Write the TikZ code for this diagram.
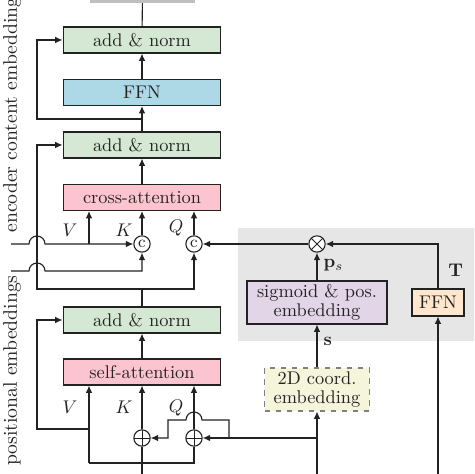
\documentclass[tikz,border=0pt]{standalone}
\usetikzlibrary{positioning,arrows.meta,calc}
\definecolor{ink}{HTML}{222222}
\definecolor{normgreen}{HTML}{D5E8D4}
\definecolor{ffnblue}{HTML}{ADD8E6}
\definecolor{attnpink}{HTML}{FCC4CE}
\definecolor{sigpurple}{HTML}{E1D5E7}
\definecolor{ffnorange}{HTML}{FFE6CC}
\definecolor{coordyellow}{HTML}{F5F5DC}
\definecolor{panelgray}{HTML}{E6E6E6}
\definecolor{outgray}{HTML}{BFBFBF}
\begin{document}
\begin{tikzpicture}[
  x=0.545pt, y=0.545pt,
  >=Latex,
  every node/.style={text=ink},
  block/.style={draw=ink,line width=0.6pt,minimum width=86pt,minimum height=14.2pt,inner sep=0pt},
  twoline/.style={draw=ink,line width=0.6pt,align=center,inner sep=0pt,minimum height=23.4pt,
    font=\fontsize{10pt}{10.5pt}\selectfont},
  op/.style={circle,draw=ink,line width=0.6pt,fill=white,minimum size=8.9pt,inner sep=0pt},
  plusop/.style={op,path picture={\draw[ink,line width=0.5pt]
    (path picture bounding box.north) -- (path picture bounding box.south)
    (path picture bounding box.west) -- (path picture bounding box.east);}},
  timesop/.style={op,path picture={\draw[ink,line width=0.5pt]
    (path picture bounding box.north west) -- (path picture bounding box.south east)
    (path picture bounding box.south west) -- (path picture bounding box.north east);}},
  catop/.style={op,font=\small},
  wire/.style={draw=ink,line width=0.6pt},
  arr/.style={wire,-{Latex[length=4pt,width=3.6pt]}},
  side/.style={rotate=90,inner sep=0pt,font=\fontsize{10.7pt}{13pt}\selectfont}
]
\path[use as bounding box] (0,0) rectangle (474,474);
\clip (0,0) rectangle (474,474);

% panel behind the spatial query branch
\fill[panelgray] (238,133) rectangle (480,246);

% decoder layer
\node[fill=outgray,minimum width=57pt,minimum height=14pt] (out) at (142.5,484) {};
\node[block,fill=normgreen] (an1) at (142,434) {add \& norm};
\node[block,fill=ffnblue] (ffn) at (142,381.5) {FFN};
\node[block,fill=normgreen] (an2) at (142,329) {add \& norm};
\node[block,fill=attnpink] (cross) at (142,276.5) {cross-attention};
\node[catop] (ck) at (142,230) {c};
\node[catop] (cq) at (194,230) {c};
\node[block,fill=normgreen] (an3) at (142,154) {add \& norm};
\node[block,fill=attnpink] (self) at (142,102) {self-attention};
\node[plusop] (pk) at (142,36) {};
\node[plusop] (pq) at (194,36) {};

% spatial query
\node[timesop] (mul) at (317,230) {};
\node[twoline,fill=sigpurple,minimum width=76.3pt] (sig) at (317,171.5) {sigmoid \& pos.\\embedding};
\node[twoline,fill=coordyellow,draw=gray,dashed,minimum width=57.2pt] (coord) at (317,84.5) {2D coord.\\embedding};
\node[draw=ink,line width=0.6pt,fill=ffnorange,minimum width=28.3pt,minimum height=14.7pt,inner sep=0pt] (ffs) at (438,171.5) {FFN};

% input labels
\node[side,anchor=base west] (enclab) at (17,241) {encoder content embedding};
\node[side,anchor=base east] (poslab) at (17,199) {positional embeddings};
\node (cv) at (70,244) {$V$};
\node (ckl) at (124,244) {$K$};
\node (cql) at (176,246) {$Q$};
\node (sv) at (70,67) {$V$};
\node (skl) at (124,67) {$K$};
\node (sql) at (176,66) {$Q$};

% wiring points
\coordinate (lx) at (37,0);
\coordinate (r2) at (142,355);
\coordinate (j1) at (142,185);
\coordinate (enc) at (11,230);
\coordinate (pos) at (11,203);
\coordinate (vc) at (89,230);
\coordinate (din) at (142,-5);
\coordinate (bus) at (142,11);
\coordinate (vb) at (89,11);
\coordinate (vj) at (89,45);
\coordinate (sin) at (317,-5);
\coordinate (sj) at (317,36);
\coordinate (sb) at (229,36);
\coordinate (hk) at (168,54);
\coordinate (tin) at (438,-5);

% upper half
\draw[wire] (an1) -- (out);
\draw[arr] (ffn) -- (an1);
\draw[arr] (an2) -- (ffn);
\draw[arr] (r2) -- (r2 -| lx) |- (an1.west);
\draw[arr] (cross) -- (an2);
\draw[arr] (ck) -- (cross.south -| ck);
\draw[arr] (cq) -- (cross.south -| cq);
\draw[arr] (vc) -- (vc |- cross.south);
\draw[arr] (enc) -- ($(enc -| lx)+(-8,0)$) arc[start angle=180,end angle=0,radius=4.36pt] -- (ck);
\draw[arr] (pos) -- ($(pos -| lx)+(-8,0)$) arc[start angle=180,end angle=0,radius=4.36pt] -| (ck);
\draw[arr] (an3) -- (j1) -- (j1 -| lx) |- (an2.west);
\draw[arr] (j1) -| (cq);
\draw[arr] (mul) -- (cq);

% lower half
\draw[arr] (self) -- (an3);
\draw[arr] (vj) -- (vj -| lx) |- (an3.west);
\draw[wire] (din) -- (pk);
\draw[wire] (vb) -- (bus) -| (pq);
\draw[arr] (vb) -- (vb |- self.south);
\draw[arr] (pk) -- (pk |- self.south);
\draw[arr] (pq) -- (pq |- self.south);
\draw[arr] (sj) -- (pq);
\draw[arr] (sb) -- (sb |- hk) -- ($(pq |- hk)+(8,0)$) arc[start angle=0,end angle=180,radius=4.36pt] -- (hk) |- (pk);

% spatial query branch
\draw[arr] (sin) -- (coord);
\draw[arr] (coord) -- node[right,pos=0.6] (slab) {$\mathbf{s}$} (sig);
\draw[arr] (sig) -- node[right,pos=0.55] (plab) {$\mathbf{p}_s$} (mul);
\draw[arr] (tin) -- (ffs);
\draw[arr] (ffs) |- node[right,pos=0.2,xshift=2pt] (tlab) {$\mathbf{T}$} (mul);
\end{tikzpicture}
\end{document}
